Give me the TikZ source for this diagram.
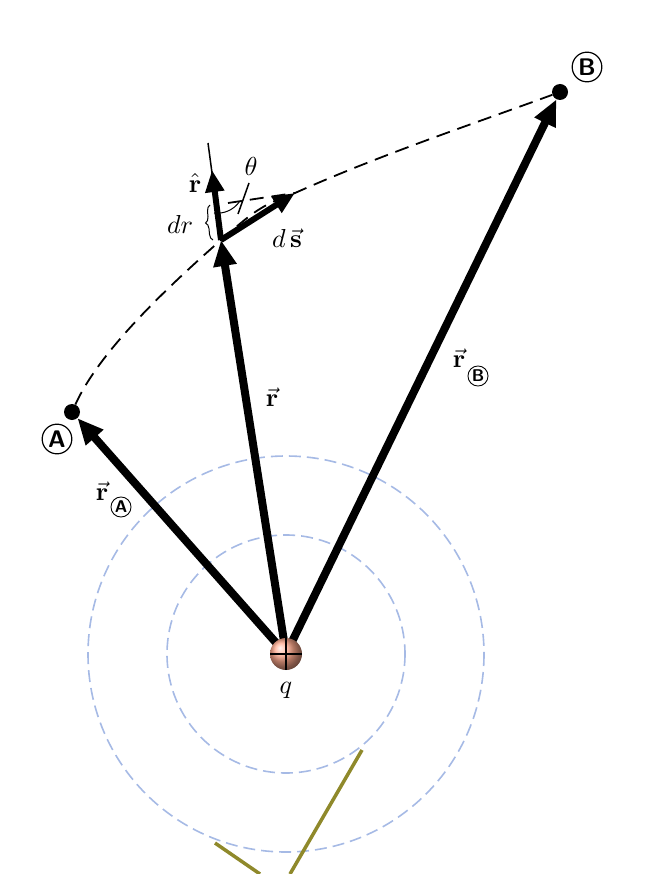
\documentclass[tikz,border=0pt]{standalone}
\usetikzlibrary{arrows.meta,decorations.pathreplacing}
\begin{document}
\begin{tikzpicture}[x=1pt,y=-1pt,
  vec/.style={line width=8pt,-{Triangle[length=26pt,width=22pt]}},
  small/.style={line width=6pt,-{Triangle[length=22pt,width=18pt]}},
  circ/.style={draw=cyan!45!blue!35,dash pattern=on 12pt off 6pt,line width=1.6pt},
  dsh/.style={dash pattern=on 14pt off 8pt,line width=1.8pt},
  dot/.style={circle,fill=black,inner sep=0pt,minimum size=16pt},
  lab/.style={scale=2.6},
  circlab/.style={draw,circle,line width=1.2pt,inner sep=0.8pt,font=\sffamily\bfseries,scale=2.4},
  sublab/.style={draw,circle,line width=0.9pt,inner sep=0.6pt,font=\sffamily\bfseries,scale=1.7}]
\useasboundingbox (0,0) rectangle (662,874);
\coordinate (q) at (286,654);
\draw[circ] (q) circle (119);
\draw[circ] (q) circle (198);
\draw[line width=3.5pt,draw=olive!70!gray] (362,750) -- (290,874);
\draw[line width=3.5pt,draw=olive!70!gray] (215,843) -- (260,874);
\node[dot] (A) at (72,412) {};
\node[dot] (B) at (560,92) {};
\coordinate (P) at (221,240);
\coordinate (S) at (295,193);
\draw[dsh] (A) .. controls (100,350) and (170,285) .. (P) .. controls (250,215) and (260,205) .. (S) .. controls (380,155) and (470,125) .. (B);
\draw[dsh] (228,203) -- (S);
\draw[line width=1.5pt] (P) -- (208,143);
\draw[line width=1pt] (214,213) arc[start angle=97,end angle=35,radius=27];
\draw[line width=1.5pt] (238,214) -- (249,183);
\node[lab] (th) at (251,166) {$\theta$};
\draw[vec] (q) -- (B);
\draw[vec] (q) -- (A);
\draw[vec] (q) -- (P);
\draw[small] (P) -- (212,170);
\draw[small] (P) -- (S);
\draw[decorate,decoration={brace,amplitude=6pt},line width=1pt] (213,240) -- (210,205);
\shade[ball color=orange!50!red!45] (q) circle (16);
\draw[line width=2pt] (270,654) -- (302,654) (286,638) -- (286,670);
\node[lab] at (286,690) {$q$};
\node[lab] at (180,224) {$dr$};
\node[lab] at (195,183) {$\hat{\mathbf r}$};
\node[lab] at (287,238) {$d\,\vec{\mathbf s}$};
\node[lab] at (272,397) {$\vec{\mathbf r}$};
\node[circlab] at (57,439) {A};
\node[circlab] at (587,67) {B};
\node[lab] at (102,491) {$\vec{\mathbf r}$};
\node[sublab] at (121,507) {A};
\node[lab] at (459,358) {$\vec{\mathbf r}$};
\node[sublab] at (478,376) {B};
\end{tikzpicture}
\end{document}
